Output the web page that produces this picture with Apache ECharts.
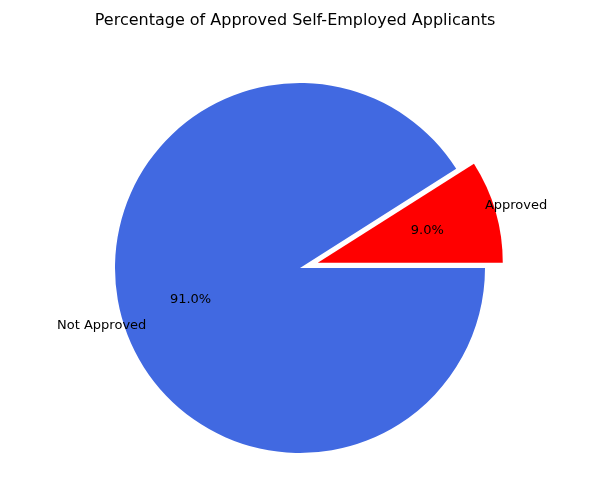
<!DOCTYPE html>
<html><head><meta charset="utf-8">
<script src="https://cdn.jsdelivr.net/npm/echarts@6/dist/echarts.min.js"></script>
<style>html,body{margin:0;padding:0;background:#fff}#c{width:590px;height:504px}</style>
</head><body><div id="c"></div>
<script>
const categories = ['Approved', 'Not Approved'];
const values = [9.0, 91.0];
const colors = ['#ff0000', '#4169e1'];
const R = 185, OFF = 18.5, C = [300, 268];
const chart = echarts.init(document.getElementById('c'));
const font = {fontFamily: 'DejaVu Sans', fontSize: 13, color: '#000'};
const base = {type: 'pie', center: C, startAngle: 0, clockwise: false, selectedMode: 'multiple',
  selectedOffset: OFF, animation: false, labelLine: {show: false}};
chart.setOption({
  title: {text: 'Percentage of Approved Self-Employed Applicants', left: 'center', top: 8,
    textStyle: {fontFamily: 'DejaVu Sans', fontSize: 16, fontWeight: 'normal', color: '#000'}},
  series: [
    Object.assign({}, base, {radius: [0, R], label: {show: false},
      data: categories.map((n, i) => ({name: n, value: values[i], selected: i === 0, itemStyle: {color: colors[i]}}))}),
    Object.assign({}, base, {radius: [0, R * 1.2], silent: true,
      label: Object.assign({show: true, position: 'inside', formatter: p => values[p.dataIndex].toFixed(1) + '%'}, font),
      data: categories.map((n, i) => ({name: n, value: values[i], selected: i === 0, itemStyle: {color: 'transparent'}}))}),
    Object.assign({}, base, {radius: [0, R * 2.2], silent: true,
      label: Object.assign({show: true, position: 'inside', formatter: '{b}'}, font),
      data: categories.map((n, i) => ({name: n, value: values[i], selected: i === 0, itemStyle: {color: 'transparent'},
        label: {align: i === 0 ? 'left' : 'right'}}))})
  ]
});
</script></body></html>
